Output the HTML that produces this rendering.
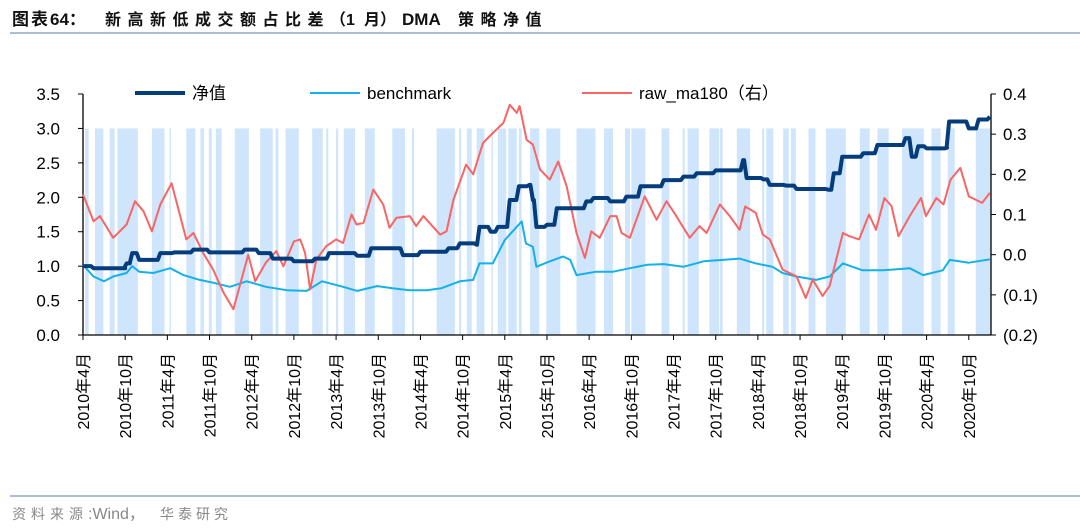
<!DOCTYPE html>
<html><head><meta charset="utf-8">
<style>
html,body{margin:0;padding:0;background:#fff;}
body{width:1080px;height:525px;overflow:hidden;font-family:"Liberation Sans","Noto Sans CJK SC",sans-serif;}
svg text{font-family:"Liberation Sans","Noto Sans CJK SC",sans-serif;}
</style></head>
<body>
<svg id="chart" width="1080" height="525" viewBox="0 0 1080 525">
  <text y="25" font-size="17" font-weight="bold" fill="#111"><tspan x="12" letter-spacing="2">图表</tspan><tspan x="50">64：</tspan><tspan x="105" font-size="16" letter-spacing="6.5">新高新低成交额占比差</tspan><tspan x="330" font-size="16">（1</tspan><tspan x="364" font-size="16">月）</tspan><tspan x="402">DMA</tspan><tspan x="458" font-size="16" letter-spacing="6.5">策略净值</tspan></text>
  <line x1="10" y1="33" x2="1080" y2="33" stroke="#8fa9c8" stroke-width="1.5"/>
  <line x1="10" y1="496" x2="1080" y2="496" stroke="#8fa9c8" stroke-width="1.5"/>
  <text y="519" fill="#888"><tspan x="12" font-size="14" letter-spacing="5">资料来源</tspan><tspan x="88" font-size="16">:Wind，</tspan><tspan x="160" font-size="14" letter-spacing="4">华泰研究</tspan></text>
  <g id="bands"></g>
  <g id="axes"></g>
  <g id="series"></g>
  <g id="legend"></g>
</svg>
<script>
const xTickLabels=["2010年4月","2010年10月","2011年4月","2011年10月","2012年4月","2012年10月","2013年4月","2013年10月","2014年4月","2014年10月","2015年4月","2015年10月","2016年4月","2016年10月","2017年4月","2017年10月","2018年4月","2018年10月","2019年4月","2019年10月","2020年4月","2020年10月"];
const leftTicks=[0,0.5,1,1.5,2,2.5,3,3.5];
const rightTicks=[-0.2,-0.1,0,0.1,0.2,0.3,0.4];
const rightTickLabels=["(0.2)","(0.1)","0.0","0.1","0.2","0.3","0.4"];
const navMonths=[0,1.5,6,6.2,7,8,9.5,11,13,15.7,18,21,23,25,27,30,33,35,38,39,41,44,45.5,48,52,53.6,56,56.4,58,59,60.7,62,63.5,64,64.5,66,67.4,70.7,71.6,72.6,75,77.3,79.3,82.6,85.4,87.3,90,92.9,93.9,94.4,96.8,97.7,100,101.5,106,106.8,108,111,113,115.5,117,117.9,118.8,120,122,122.9,123.2,126,127.4,129];
const navValues=[1.0,0.97,0.97,1.04,1.19,1.09,1.09,1.19,1.2,1.24,1.2,1.2,1.24,1.19,1.11,1.07,1.11,1.19,1.19,1.15,1.26,1.26,1.16,1.21,1.26,1.33,1.31,1.57,1.5,1.57,1.96,2.16,2.18,1.96,1.57,1.6,1.84,1.84,1.94,1.99,1.94,2.01,2.16,2.25,2.30,2.35,2.39,2.39,2.54,2.28,2.26,2.18,2.17,2.12,2.11,2.35,2.59,2.64,2.76,2.76,2.86,2.59,2.74,2.71,2.71,2.72,3.1,3.0,3.13,3.17];
const benchMonths=[0,1.5,3,4.3,6.2,7,8,10,12.4,14.3,16.6,18.5,20.9,23.3,26,29,31.8,34,37,39,41.8,44,46.5,48.9,51,53.6,55.5,56.4,58.3,60,62.4,63,64,64.5,66.4,68.3,69.3,70.2,73,75.4,77.8,80.2,82.6,85.4,88.3,91,93.4,95.7,98.1,99.5,101.5,104.3,106.2,108.1,110.9,113.8,117.6,119.5,122.3,123.3,126,129];
const benchValues=[1.02,0.85,0.78,0.85,0.9,1.0,0.92,0.9,0.97,0.87,0.8,0.76,0.70,0.78,0.70,0.65,0.64,0.78,0.70,0.64,0.71,0.68,0.65,0.65,0.68,0.78,0.8,1.04,1.04,1.38,1.65,1.33,1.28,0.99,1.07,1.14,1.09,0.87,0.92,0.92,0.97,1.02,1.03,0.99,1.07,1.09,1.11,1.04,0.99,0.9,0.85,0.8,0.85,1.04,0.94,0.94,0.97,0.87,0.94,1.09,1.05,1.1];
const rawMonths=[0,1.5,2.4,4.3,6.2,7.4,8.6,9.8,11,12.6,14.7,15.7,17.1,18.5,20,21.4,23.5,24.5,26,27.5,28.5,30,30.9,31.6,32.3,33.2,34.6,36,37,38.2,38.9,39.9,41.3,42.7,43.6,44.6,46.5,47.4,48.4,50.8,51.7,52.7,54.5,55.5,56.9,58.3,59.8,60.7,61.7,62.1,63.1,64,65,66.4,67.6,68.8,70.2,71.4,72.3,73.5,75,75.9,76.6,77.8,79.9,81.6,83,84.4,86.3,87.7,88.7,90.6,92,93.4,94.2,95.7,96.7,97.7,99.5,101.5,102.8,103.8,105.2,106.2,108.1,109,110.4,111.8,112.8,114,115,116,117.6,119.2,119.9,121.4,122.4,123.4,124.8,126,127.9,129];
const rawValues=[0.15,0.083,0.096,0.042,0.075,0.133,0.108,0.058,0.125,0.178,0.038,0.054,0.004,-0.037,-0.095,-0.136,0,-0.066,-0.02,0.009,-0.029,0.033,0.038,0.004,-0.087,-0.012,0.021,0.038,0.029,0.1,0.075,0.079,0.162,0.125,0.067,0.092,0.096,0.071,0.096,0.05,0.058,0.137,0.224,0.2,0.278,0.303,0.328,0.373,0.353,0.37,0.286,0.274,0.212,0.187,0.232,0.17,0.054,-0.008,0.058,0.042,0.096,0.096,0.054,0.042,0.145,0.087,0.133,0.096,0.042,0.071,0.054,0.125,0.096,0.062,0.12,0.104,0.05,0.038,-0.037,-0.054,-0.108,-0.062,-0.103,-0.078,0.054,0.046,0.038,0.1,0.062,0.141,0.121,0.046,0.096,0.141,0.096,0.141,0.125,0.187,0.216,0.145,0.129,0.154];
const bandStarts=[0.3,1.7,3.8,4.9,9.8,12.3,14.7,16.7,17.9,18.9,21.6,25.2,27.4,28.8,32.6,34.6,36,37.1,40.1,44,46.8,50.3,53.5,54.6,56,58.1,59,60.5,62,63.6,65.9,70.2,74.1,77.1,78.0,82.3,85.3,86,89.1,90.6,93,96.6,97.2,99.6,100.7,103.2,105.7,110.5,113,116.5,120.7,123,127];
const bandEnds=[0.8,2.9,4.5,7.8,11.6,12.5,16,17.2,18.3,19.7,23.6,27,27.8,30.7,34.1,34.9,36.3,38.7,41.5,45.8,47.1,52.9,53.8,55.3,57.1,58.3,60.2,61.7,62.4,64.9,67.9,72.9,75.4,77.8,80.0,83.4,85.6,87.6,90.5,91,94.9,96.9,98.2,100.4,101.4,104.2,108.5,111.9,114.6,119.6,122,124,129.2];

const NS="http://www.w3.org/2000/svg";
const X0=83, XEND=991, MW=7.03, YB=335, YT=94;
const xs=m=>X0+m*MW;
const yl=v=>YB-(v/3.5)*(YB-YT);
const yr=v=>YB-((v+0.2)/0.6)*(YB-YT);
function mk(tag,attrs,parent){const e=document.createElementNS(NS,tag);for(const k in attrs)e.setAttribute(k,attrs[k]);parent.appendChild(e);return e;}

const bandsG=document.getElementById('bands');
bandStarts.forEach((s,i)=>{
  const r=mk('rect',{x:xs(s),y:yl(3.0),width:Math.max(1,xs(bandEnds[i])-xs(s)),height:yl(0)-yl(3.0),fill:'#cfe5fb'},bandsG);
  
  
});

const ax=document.getElementById('axes');
let l=mk('line',{x1:X0,y1:YT,x2:X0,y2:YB,stroke:'#000','stroke-width':1.3},ax);

l=mk('line',{x1:XEND,y1:YT,x2:XEND,y2:YB,stroke:'#000','stroke-width':1.3},ax);

l=mk('line',{x1:X0,y1:YB,x2:XEND,y2:YB,stroke:'#000','stroke-width':1.3},ax);

leftTicks.forEach(v=>{
  mk('line',{x1:X0-5,y1:yl(v),x2:X0,y2:yl(v),stroke:'#000'},ax);
  const t=mk('text',{x:X0-23,y:yl(v)+6,'font-size':17,'text-anchor':'end',fill:'#000'},ax);
  t.textContent=v.toFixed(1);
  
});
rightTicks.forEach((v,i)=>{
  mk('line',{x1:XEND,y1:yr(v),x2:XEND+5,y2:yr(v),stroke:'#000'},ax);
  const t=mk('text',{x:XEND+12,y:yr(v)+6,'font-size':17,fill:'#000'},ax);
  t.textContent=rightTickLabels[i];
  
});
xTickLabels.forEach((s,i)=>{
  const x=xs(i*6);
  mk('line',{x1:x,y1:YB,x2:x,y2:YB+5,stroke:'#000'},ax);
  const t=mk('text',{x:0,y:0,'font-size':16,'text-anchor':'end',fill:'#000',transform:`translate(${x+6},353) rotate(-90)`},ax);
  t.textContent=s;
  
});

const sg=document.getElementById('series');
function line(ms,vs,yf,color,w,name,step){
  let d='';
  ms.forEach((m,i)=>{
    const x=xs(m).toFixed(1), y=yf(vs[i]).toFixed(1);
    if(i===0) d+='M'+x+','+y;
    else if(step){ const px=xs(m)-2.5; d+=' L'+px.toFixed(1)+','+yf(vs[i-1]).toFixed(1)+' L'+x+','+y; }
    else d+=' L'+x+','+y;
  });
  const p=mk('path',{d:d,fill:'none',stroke:color,'stroke-width':w,'stroke-linejoin':'round'},sg);
  
}
line(benchMonths,benchValues,yl,'#14b0ea',2,'benchmark-line',false);
line(rawMonths,rawValues,yr,'#fa6464',2,'raw-ma180-line',false);
line(navMonths,navValues,yl,'#053d7c',4,'nav-line',true);

const lg=document.getElementById('legend');
const items=[["净值",'#053d7c',4,135],["benchmark",'#14b0ea',2,310],["raw_ma180（右）",'#fa6464',2,582]];
items.forEach(it=>{
  const g=mk('g',{},lg);
  
  mk('line',{x1:it[3],y1:93,x2:it[3]+50,y2:93,stroke:it[1],'stroke-width':it[2]},g);
  const t=mk('text',{x:it[3]+57,y:99,'font-size':17,fill:'#000'},g);
  t.textContent=it[0];
});
</script>
</body></html>
